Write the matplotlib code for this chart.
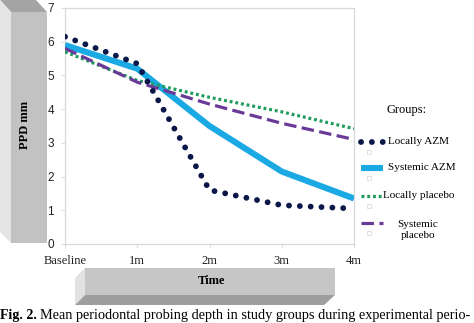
import matplotlib
matplotlib.use("Agg")
import matplotlib.pyplot as plt
from matplotlib.patches import Polygon
from matplotlib.lines import Line2D

# data
periods = ["Baseline", "1m", "2m", "3m", "4m"]
locally_azm = [6.15, 5.35, 1.6, 1.15, 1.05]
systemic_azm = [5.9, 5.2, 3.5, 2.15, 1.35]
locally_placebo = [5.7, 4.85, 4.35, 3.92, 3.42]
systemic_placebo = [5.8, 4.8, 4.15, 3.58, 3.1]

W, H = 474, 323
serif = "Liberation Serif"
sans = "Liberation Sans"

fig = plt.figure(figsize=(W / 100, H / 100), dpi=100)


def fx(px):
    return px / W


def fy(py):
    return 1 - py / H


ax = fig.add_axes([fx(65), fy(244), fx(354) - fx(65), fy(8) - fy(244)])
x = range(len(periods))

ax.plot(x, locally_azm, color="#0a1748", lw=4.2, linestyle=(0, (0.01, 1.85)),
        dash_capstyle="round", zorder=4)
ax.plot(x, systemic_azm, color="#1aa9e2", lw=4.4, solid_capstyle="butt", zorder=3)
ax.plot(x, locally_placebo, color="#1e9c5c", lw=2.3, linestyle=(0, (0.9, 0.9)), zorder=3)
ax.plot(x, systemic_placebo, color="#6a3a98", lw=2.3, linestyle=(0, (3.9, 1.7)), zorder=3)

ax.set_xlim(0, 4)
ax.set_ylim(0, 7)
ax.set_xticks(list(x))
ax.set_xticklabels(periods, fontfamily=serif, fontsize=9)
ax.set_yticks(range(8))
ax.set_yticklabels([str(v) for v in range(8)], fontfamily=sans, fontsize=8.5)
ax.tick_params(axis="both", length=3, color="#e0e0e0", width=0.8, labelcolor="#222222")
ax.tick_params(axis="x", pad=5)
ax.tick_params(axis="y", pad=5)
for s in ax.spines.values():
    s.set_color("#d8d8d8")
    s.set_linewidth(0.9)

# 3D box behind y-axis title
fig.patches.append(Polygon([(fx(0), fy(0)), (fx(36), fy(0)), (fx(47), fy(12)), (fx(11), fy(12))],
                           closed=True, transform=fig.transFigure, fc="#a4a4a4", ec="none"))
fig.patches.append(Polygon([(fx(0), fy(0)), (fx(11), fy(12)), (fx(11), fy(243)), (fx(0), fy(232))],
                           closed=True, transform=fig.transFigure, fc="#e4e4e4", ec="none"))
fig.patches.append(Polygon([(fx(11), fy(12)), (fx(47), fy(12)), (fx(47), fy(243)), (fx(11), fy(243))],
                           closed=True, transform=fig.transFigure, fc="#c2c2c2", ec="none"))
fig.text(fx(25), fy(125), "PPD mm", rotation=90, ha="center", va="center",
         fontfamily=serif, fontweight="bold", fontsize=9)

# 3D box behind x-axis title
fig.patches.append(Polygon([(fx(75), fy(278)), (fx(85), fy(268)), (fx(85), fy(295)), (fx(75), fy(305))],
                           closed=True, transform=fig.transFigure, fc="#e2e2e2", ec="none"))
fig.patches.append(Polygon([(fx(85), fy(268)), (fx(335), fy(268)), (fx(335), fy(295)), (fx(85), fy(295))],
                           closed=True, transform=fig.transFigure, fc="#c6c6c6", ec="none"))
fig.patches.append(Polygon([(fx(75), fy(305)), (fx(85), fy(295)), (fx(335), fy(295)), (fx(324), fy(305))],
                           closed=True, transform=fig.transFigure, fc="#9e9e9e", ec="none"))
fig.text(fx(211), fy(281), "Time", ha="center", va="center",
         fontfamily=serif, fontweight="bold", fontsize=9)

# legend
fig.text(fx(407), fy(110), "Groups:", ha="center", va="center", fontfamily=serif, fontsize=9)
leg = [
    (142, dict(color="#0a1748", lw=4.2, linestyle=(0, (0.01, 1.85)), dash_capstyle="round"),
     388, "Locally AZM", "left"),
    (168, dict(color="#1aa9e2", lw=4.4, solid_capstyle="butt"), 388, "Systemic AZM", "left"),
    (196, dict(color="#1e9c5c", lw=2.3, linestyle=(0, (0.9, 0.9))), 383, "Locally placebo", "left"),
    (223, dict(color="#6a3a98", lw=2.3, linestyle=(0, (3.9, 1.7))), 418, "Systemic\nplacebo", "center"),
]
for ly, style, tx, label, ha in leg:
    fig.lines.append(Line2D([fx(361), fx(383)], [fy(ly), fy(ly)], transform=fig.transFigure, **style))
    ty = ly + 7 if "\n" in label else ly
    fig.text(fx(tx), fy(ty), label, ha=ha, va="center", fontfamily=serif, fontsize=8,
             linespacing=1.3)
    fig.lines.append(Line2D([fx(369)], [fy(ly + 10)], transform=fig.transFigure, marker="s",
                            ms=3.5, mfc="white", mec="#dddddd", mew=0.6, linestyle="none"))

# caption
fig.text(0.0, fy(316), "Fig. 2.", ha="left", va="center", fontfamily=serif,
         fontweight="bold", fontsize=10)
fig.text(fx(40), fy(316), "Mean periodontal probing depth in study groups during experimental perio-",
         ha="left", va="center", fontfamily=serif, fontsize=10.3)

fig.savefig("out.png", dpi=100)
